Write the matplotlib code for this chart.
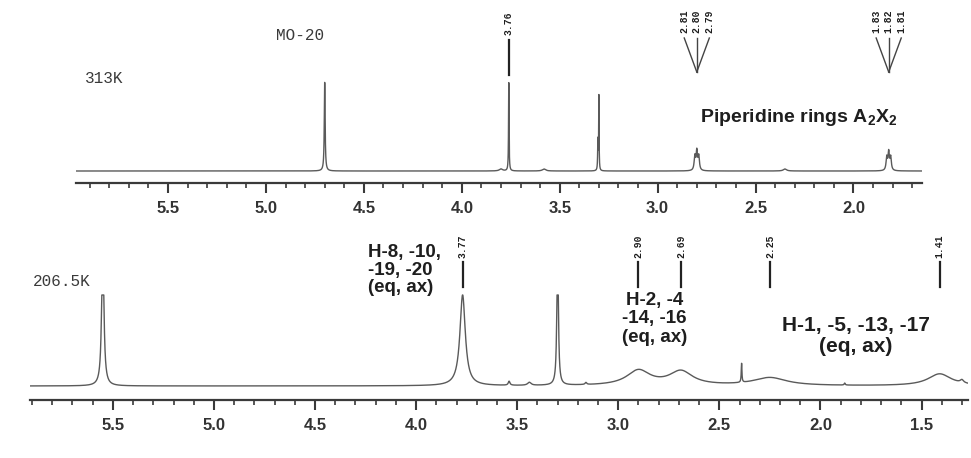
import numpy as np
import matplotlib
matplotlib.use('Agg')
import matplotlib.pyplot as plt
from matplotlib.ticker import MultipleLocator

plt.rcParams['font.family'] = ['Liberation Sans', 'DejaVu Sans']
plt.rcParams['mathtext.fontset'] = 'custom'
plt.rcParams['mathtext.bf'] = 'Liberation Sans:bold'
plt.rcParams['mathtext.rm'] = 'Liberation Sans:bold'

# peak lists: position (ppm), height, half width (ppm)
top_pos = [4.70, 3.76, 3.305, 3.300, 2.81, 2.80, 2.79, 1.83, 1.82, 1.81, 3.80, 3.58, 2.35]
top_height = [89, 89, 30, 74, 14, 19, 14, 13, 18, 13, 2, 2, 2]
top_width = [0.0025, 0.0015, 0.0015, 0.0012, 0.004, 0.004, 0.004, 0.004, 0.004, 0.004, 0.01, 0.01, 0.01]

bot_pos = [5.55, 3.77, 3.30, 3.54, 3.44, 3.16, 2.90, 2.69, 2.39, 2.25, 1.88, 1.41, 1.30]
bot_height = [160, 91, 160, 4, 3, 2, 15, 14, 19, 8, 2, 12, 3]
bot_width = [0.006, 0.016, 0.004, 0.005, 0.01, 0.005, 0.07, 0.07, 0.002, 0.1, 0.003, 0.07, 0.01]
bot_clip = 91

top_labels = ['3.76']
top_label_pos = [3.76]
top_groups = [(['2.81', '2.80', '2.79'], 2.80), (['1.83', '1.82', '1.81'], 1.82)]
bot_labels = ['3.77', '2.90', '2.69', '2.25', '1.41']
bot_label_pos = [3.77, 2.90, 2.69, 2.25, 1.41]

line_col = '#5a5a5a'
text_col = '#1e1e1e'


def spectrum(x, pos, height, width):
    y = np.zeros_like(x)
    for p, h, w in zip(pos, height, width):
        y += h * w**2 / ((x - p)**2 + w**2)
    return y


def style_axis(ax, lo, hi):
    ax.set_xlim(lo, hi)
    for s in ['top', 'left', 'right']:
        ax.spines[s].set_visible(False)
    ax.spines['bottom'].set_color('#3a3a3a')
    ax.spines['bottom'].set_linewidth(1.6)
    ax.set_yticks([])
    ax.xaxis.set_major_locator(MultipleLocator(0.5))
    ax.xaxis.set_minor_locator(MultipleLocator(0.1))
    ax.tick_params(axis='x', which='major', length=7, width=1.5, color='#3a3a3a',
                   labelsize=12, labelcolor='#333333', pad=6)
    ax.tick_params(axis='x', which='minor', length=3.5, width=1.2, color='#3a3a3a')
    for t in ax.get_xticklabels():
        t.set_fontweight('bold')
    ax.patch.set_visible(False)


fig = plt.figure(figsize=(9.71, 4.58), dpi=100)

# top spectrum (313 K)
ax1 = fig.add_axes([76 / 971, 1 - 183 / 458, 846 / 971, 183 / 458])
x1 = np.linspace(5.97, 1.65, 12000)
ax1.plot(x1, spectrum(x1, top_pos, top_height, top_width), color=line_col, lw=1.0)
ax1.set_ylim(-12, 171)
style_axis(ax1, 5.97, 1.65)

for lab, p in zip(top_labels, top_label_pos):
    ax1.text(p, 136, lab, rotation=90, ha='center', va='bottom', family='Liberation Mono',
             fontsize=7, fontweight='bold', color=text_col)
    ax1.plot([p, p], [131, 96], color='#222222', lw=1.6, clip_on=False)

for labs, p in top_groups:
    offs = [0.064, 0.0, -0.064]
    for lab, o in zip(labs, offs):
        ax1.text(p + o, 138, lab, rotation=90, ha='center', va='bottom',
                 family='Liberation Mono', fontsize=7, fontweight='bold', color=text_col)
        ax1.plot([p + o, p], [133, 99], color='#444444', lw=1.0, clip_on=False)

ax1.text(2.785, 53, r'Piperidine rings A$_{2}$X$_{2}$', ha='left', va='center',
         fontsize=14, fontweight='bold', color=text_col)

# bottom spectrum (206.5 K)
ax2 = fig.add_axes([30 / 971, 1 - 400 / 458, 938 / 971, 170 / 458])
x2 = np.linspace(5.91, 1.27, 12000)
y2 = np.minimum(spectrum(x2, bot_pos, bot_height, bot_width), bot_clip)
ax2.plot(x2, y2, color=line_col, lw=1.0)
ax2.set_ylim(-14, 156)
style_axis(ax2, 5.91, 1.27)

for lab, p in zip(bot_labels, bot_label_pos):
    ax2.text(p, 128, lab, rotation=90, ha='center', va='bottom', family='Liberation Mono',
             fontsize=7, fontweight='bold', color=text_col)
    ax2.plot([p, p], [124, 99], color='#222222', lw=1.6, clip_on=False)

ax2.text(4.24, 142, 'H-8, -10,\n-19, -20\n(eq, ax)', ha='left', va='top', fontsize=13.5,
         fontweight='bold', color=text_col, linespacing=1.05)
ax2.text(2.82, 94, 'H-2, -4\n-14, -16\n(eq, ax)', ha='center', va='top', fontsize=13.5,
         fontweight='bold', color=text_col, linespacing=1.1)
ax2.text(1.826, 70, 'H-1, -5, -13, -17\n(eq, ax)', ha='center', va='top', fontsize=15,
         fontweight='bold', color=text_col, linespacing=1.12)

# sample / temperature labels
fig.text(300 / 971, 1 - 36 / 458, 'MO-20', family='Liberation Mono', fontsize=11.5,
         color='#3a3a3a', ha='center', va='center')
fig.text(85 / 971, 1 - 78 / 458, '313K', family='Liberation Mono', fontsize=11.5,
         color='#3a3a3a', ha='left', va='center')
fig.text(33 / 971, 1 - 281 / 458, '206.5K', family='Liberation Mono', fontsize=11.5,
         color='#3a3a3a', ha='left', va='center')

fig.savefig('out.png', dpi=100)
